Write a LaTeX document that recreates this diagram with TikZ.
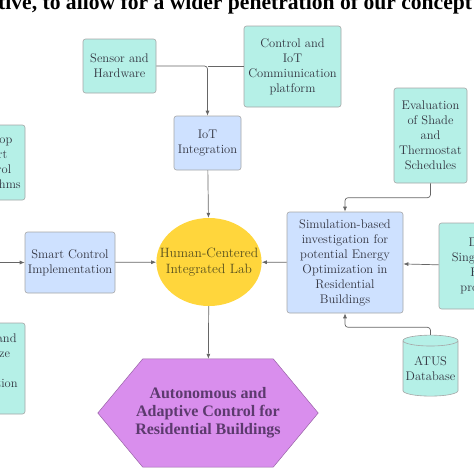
\documentclass[tikz,border=0pt]{standalone}
\usepackage{fontspec}
\newfontfamily\timesfont{Liberation Serif}
\usetikzlibrary{arrows.meta,shapes.geometric,positioning,backgrounds}

\definecolor{tealbox}{RGB}{181,240,231}
\definecolor{bluebox}{RGB}{206,225,255}
\definecolor{labyellow}{RGB}{255,214,60}
\definecolor{hexpurple}{RGB}{217,142,237}
\definecolor{boxtext}{RGB}{50,52,64}
\definecolor{labtext}{RGB}{88,80,30}
\definecolor{hextext}{RGB}{92,58,110}

\tikzset{
  basebox/.style={rectangle, rounded corners=2.5pt, draw=gray!70, line width=0.6pt,
    align=center, inner sep=0pt, text=boxtext,
    font=\fontsize{12.5}{15}\selectfont},
  input/.style={basebox, fill=tealbox},
  task/.style={basebox, fill=bluebox},
  conn/.style={draw=gray!80!black, line width=0.7pt, rounded corners=3pt,
    -{Latex[length=5pt,width=4pt]}},
  link/.style={draw=gray!80!black, line width=0.7pt, rounded corners=3pt}
}

\begin{document}
\begin{tikzpicture}[x=1pt, y=-1pt]
  \useasboundingbox (0,0) rectangle (474,474);
  \clip (0,0) rectangle (474,474);

  % Text of the page above
  \node[anchor=base west, inner sep=0pt, font=\timesfont\bfseries\fontsize{21.6}{24}\selectfont]
    (pagetext) at (-2,9) {tive, to allow for a wider penetration of our concept};

  % Define nodes
  \node[input, minimum width=73pt, minimum height=54pt]  (sensor) at (119.5,66) {Sensor and\\Hardware};
  \node[input, minimum width=97pt, minimum height=81pt]  (ctrl)   at (292.5,66.5) {Control and\\IoT\\Commiunication\\platform};
  \node[task,  minimum width=67pt, minimum height=54pt]  (iot)    at (207.5,143) {IoT\\Integration};
  \node[ellipse, fill=labyellow, minimum width=104pt, minimum height=88pt,
        inner xsep=-12pt, inner ysep=0pt, align=center, text=labtext,
        font=\fontsize{13.5}{16}\selectfont]
                                                         (lab)    at (209,262) {Human-Centered\\Integrated Lab};
  \node[task,  minimum width=90pt, minimum height=61pt]  (smart)  at (70,262.5) {Smart Control\\Implementation};
  \node[task,  minimum width=116pt, minimum height=101pt] (sim)   at (345,262.5)
        {Simulation-based\\investigation for\\potential Energy\\Optimization in\\Residential\\Buildings};
  \node[input, minimum width=73pt, minimum height=95pt]  (eval)   at (430.5,135.5) {Evaluation\\of Shade\\and\\Thermostat\\Schedules};
  \node[cylinder, shape border rotate=90, aspect=0.22, draw=gray!70, line width=0.6pt,
        fill=tealbox, minimum width=55pt, minimum height=61pt, inner sep=0pt, align=center,
        text=boxtext, font=\fontsize{12.5}{15}\selectfont]
                                                         (atus)   at (430.5,368.5) {ATUS\\Database};
  \node[input, minimum width=95pt, minimum height=86pt]  (design) at (486.5,266) {Design\\Single-family\\House\\prototype};
  \node[input, minimum width=68pt, minimum height=75pt]  (algos)  at (-9,162.5) {Develop\\Smart\\Control\\Algorithms};
  \node[input, minimum width=78pt, minimum height=91pt]  (plan)   at (-14,368.5) {Collect and\\Visualize\\Data\\Information\\Tool};
  \node[minimum width=220pt, minimum height=108pt, inner sep=0pt, align=center, text=hextext,
        font=\timesfont\bfseries\fontsize{16}{18}\selectfont]
                                                         (hex)    at (208,413)
        {Autonomous and\\Adaptive Control for\\Residential Buildings};
  \begin{scope}[on background layer]
    \filldraw[fill=hexpurple, draw=hexpurple!70!black, line width=0.5pt]
      (hex.west) -- ([xshift=45pt]hex.north west) -- ([xshift=-45pt]hex.north east)
      -- (hex.east) -- ([xshift=-45pt]hex.south east) -- ([xshift=45pt]hex.south west) -- cycle;
  \end{scope}
  \coordinate (offleft) at (-10,262.5);

  % Connect the nodes
  \draw[conn] (sensor.east) -| (iot.north);
  \draw[link] (ctrl.west) -- (ctrl.west -| iot.north);
  \draw[conn] (iot) -- (lab);
  \draw[conn] (offleft) -- (smart);
  \draw[conn] (smart) -- (lab);
  \draw[conn] (sim) -- (lab);
  \draw[conn] (design) -- (sim);
  \draw[conn] (eval.south) |- ([yshift=14pt]sim.north) -- (sim.north);
  \draw[conn] (atus.north) |- ([yshift=-14pt]sim.south) -- (sim.south);
  \draw[conn] (lab) -- (hex);
\end{tikzpicture}
\end{document}
